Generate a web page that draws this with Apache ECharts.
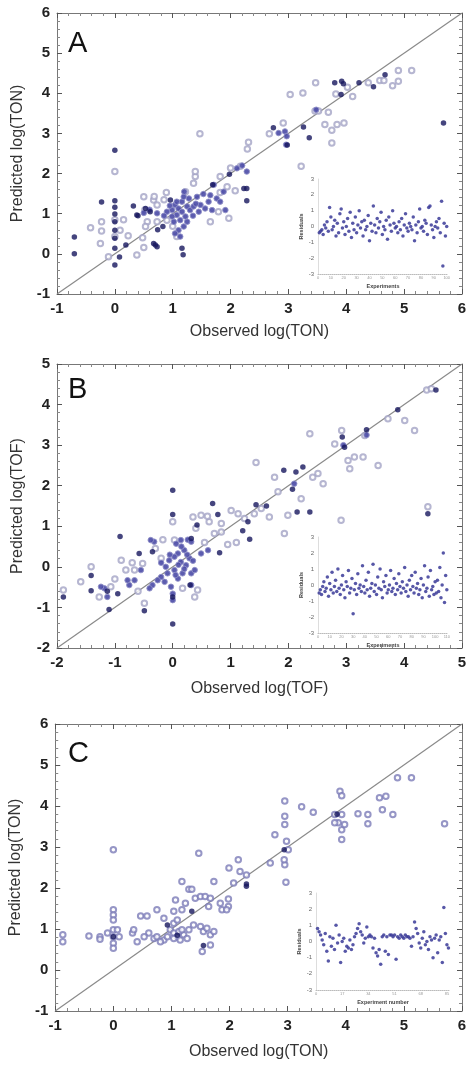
<!DOCTYPE html>
<html>
<head>
<meta charset="utf-8">
<title>Observed vs predicted</title>
<script src="https://cdn.jsdelivr.net/npm/echarts@6/dist/echarts.min.js"></script>
<style>
  html, body { margin: 0; padding: 0; background: #fff; }
  #chart { width: 474px; height: 1069px; }
</style>
</head>
<body>
<div id="chart"></div>
<script>
// panel A: observed vs predicted log(TON)
const aDark = [[-0.7,0.0],[-0.7,0.42],[-0.23,1.29],[0,2.58],[0,1.32],[0,1.16],[0,0.99],[0,0.8],[0,0.59],[0,0.39],[0,0.14],[0,-0.28],
  [0.08,-0.08],[0.19,0.22],[0.32,1.19],[0.4,0.95],[0.38,0.97],[0.53,1.13],[0.61,1.05],[0.74,0.6],[0.67,0.26],[0.73,0.18],[0.7,0.22],
  [0.83,0.68],[0.96,1.34],[1.16,0.14],[1.18,-0.02],[1.69,1.72],[1.98,1.98],[2.23,1.63],[2.28,1.63],[2.28,1.32],[2.74,3.14],
  [2.98,2.71],[3.26,3.16],[3.36,2.89],[3.8,4.26],[3.92,4.3],[3.95,4.24],[3.91,3.97],[4.22,4.26],[4.47,4.16],[4.67,4.46],[5.68,3.26]]
const aMid = [[0.99,1.09],[1.04,1.22],[1.1,1.13],[1.16,1.3],[1.07,0.97],[1.13,0.84],[1.22,0.93],[1.02,0.8],[1.19,0.68],[1.1,0.59],
  [1.04,0.51],[1.25,1.18],[1.3,1.09],[1.28,1.38],[1.19,1.42],[1.07,1.3],[0.99,0.93],[1.16,1.05],[1.25,0.8],[1.13,0.43],[1.42,1.42],
  [1.53,1.49],[1.62,1.3],[1.71,1.72],[1.48,1.22],[1.56,1.13],[1.65,1.46],[1.76,1.38],[1.82,1.3],[1.88,1.55],[1.68,1.09],[1.45,1.05],
  [1.36,1.18],[1.91,1.09],[0.5,1.02],[0.6,1.1],[0.73,1.01],[0.9,1.05],[0.85,0.95],[2.2,2.2],[2.11,2.13],[2.28,2.05],[2.83,3.01],
  [2.94,3.05],[2.97,2.93],[2.96,2.72],[3.48,3.59],[1.35,0.95],[1.4,1.25],[1.2,1.55],[0.95,1.2]]
const aRing = [[-0.42,0.65],[-0.23,0.8],[-0.23,0.57],[-0.25,0.26],[0,2.05],[0,0.85],[0,0.43],[0.09,0.59],[0.15,0.85],[0.23,0.45],
  [-0.11,-0.07],[0.38,-0.03],[0.48,0.4],[0.5,0.16],[0.52,1.1],[0.5,1.42],[0.67,1.34],[0.68,1.43],[0.85,1.35],[0.89,1.53],[0.73,1.22],
  [0.9,0.84],[0.73,0.8],[0.56,0.8],[0.53,0.68],[1.0,0.69],[1.07,0.43],[1.22,1.55],[1.36,1.76],[1.39,1.93],[1.39,2.05],[1.47,2.99],
  [1.65,0.8],[1.82,1.53],[1.94,1.67],[1.97,0.89],[1.79,1.05],[1.82,1.93],[2.0,2.14],[2.08,1.57],[2.17,2.18],[2.29,2.61],[2.31,2.78],
  [2.67,2.99],[2.91,3.26],[3.03,3.97],[3.25,4.01],[3.22,2.18],[3.47,4.26],[3.46,3.56],[3.52,3.56],[3.63,3.22],[3.69,3.53],[3.75,3.08],
  [3.75,2.76],[3.84,3.22],[3.96,3.26],[3.82,3.98],[4.11,3.92],[4.02,4.15],[4.38,4.26],[4.58,4.32],[4.65,4.32],[4.8,4.19],[4.9,4.3],
  [4.9,4.57],[5.13,4.57]]

// panel B: observed vs predicted log(TOF)
const bDark = [[-1.89,-0.74],[-1.41,-0.21],[-1.41,-0.59],[-0.91,0.75],[-1.1,-1.05],[-0.58,0.33],[-0.49,-1.08],[-0.35,0.37],[0,1.89],
  [0,1.29],[0,-1.41],[0,-0.74],[0.42,1.03],[0.69,1.56],[0.78,1.29],[0.81,0.35],[1.21,0.89],[1.3,1.11],[1.33,0.68],[1.44,1.53],
  [1.62,1.5],[1.92,2.38],[2.07,1.91],[2.13,2.34],[2.25,2.46],[2.15,1.35],[2.37,1.35],[2.93,3.2],[2.97,2.95],[3.35,3.38],[3.89,3.87],
  [4.41,1.31],[4.55,4.36],[-0.95,-0.66],[0.3,-0.45],[-1.13,-0.6],[0.32,0.7]]
const bMid = [[0.14,0.66],[0.26,0.67],[0.32,0.62],[0.2,0.41],[0.09,0.33],[0.03,0.25],[-0.06,0.16],[-0.12,0],[0.03,-0.08],[0.14,0.12],
  [0.23,0.04],[0.29,0.21],[-0.09,-0.16],[-0.2,-0.25],[-0.26,-0.33],[-0.35,-0.45],[-0.4,-0.53],[-0.14,-0.37],[-0.03,-0.49],[0,-0.66],
  [0,-0.82],[0.09,-0.29],[0.17,-0.16],[0.32,-0.16],[0.38,-0.08],[0.32,-0.45],[-0.32,0.62],[-0.38,0.66],[0.06,0.57],[0.49,0.33],
  [0.61,0.41],[-0.66,-0.33],[-0.75,-0.45],[-1.13,-0.74],[-1.18,-0.53],[-1.24,-0.49],[-0.78,-0.33],[-0.55,-0.08],[0.1,0.05],
  [0.2,-0.05],[-0.05,0.3],[0.25,0.3],[0.05,-0.2],[-0.2,0.1],[0.35,0.15],[0.15,0.5],[2.95,3.0],[3.35,3.25],[2.1,2.05]]
const bRing = [[-1.89,-0.57],[-1.59,-0.37],[-1.41,0],[-1.27,-0.74],[-1.07,-0.49],[-0.89,0.16],[-0.81,-0.08],[-0.66,-0.08],[-0.52,0.08],
  [-0.49,-0.9],[-0.2,0.21],[-0.17,0.67],[0,1.11],[0.03,0.66],[0.35,1.23],[0.49,1.27],[0.63,1.11],[0.84,1.07],[0.43,-0.57],[0.17,-0.53],
  [0.38,-0.74],[0.72,0.82],[0.84,0.86],[1.01,1.39],[1.13,1.31],[1.24,1.19],[1.41,1.31],[1.44,2.57],[1.53,1.44],[1.67,1.23],[1.76,2.21],
  [1.82,1.85],[1.93,0.82],[1.99,1.27],[2.22,1.68],[2.37,3.28],[2.42,2.21],[2.51,2.3],[2.6,2.05],[2.8,3.03],[2.92,3.36],[2.91,1.15],
  [3.03,2.62],[3.14,2.71],[3.29,2.71],[3.06,2.42],[3.32,3.24],[3.55,2.5],[3.72,3.65],[4.01,3.61],[4.18,3.36],[4.39,4.36],[4.47,4.39],
  [4.41,1.48],[-1.0,-0.3],[-0.7,0.1],[-0.3,0.45],[0.55,0.6],[0.95,0.55],[1.1,0.6],[-0.6,-0.6],[0.4,0.95],[0.6,1.25]]

// panel C: observed vs predicted log(TON), second model
const cDark = [[1.35,1.43],[0.93,1.1],[2.29,2.04],[2.29,2.1],[1.55,0.6],[0,0.81],[2.94,2.93],[1.1,0.85],[3.85,3.8]]
const cRing = [[-0.87,0.86],[-0.87,0.69],[-0.42,0.83],[-0.23,0.81],[-0.23,0.75],[0,2.93],[0,1.47],[0,1.34],[0,1.22],[0,0.98],
  [0,0.81],[0,0.65],[0,0.53],[-0.1,0.9],[0.1,0.81],[0.07,0.98],[0.33,0.9],[0.41,0.69],[0.47,1.32],[0.58,1.32],[0.61,0.9],[0.7,0.77],
  [0.75,1.47],[0.87,0.73],[0.93,0.81],[0.87,1.26],[1.04,1.14],[1.04,1.43],[1.1,1.22],[1.07,1.71],[1.18,2.16],[1.18,1.47],[1.3,1.97],
  [1.35,1.97],[1.24,1.63],[1.41,1.75],[1.47,2.85],[1.5,1.79],[1.58,1.79],[1.64,1.55],[1.67,1.75],[1.73,2.16],[1.84,1.63],[1.87,1.47],
  [1.98,1.73],[1.98,1.55],[1.95,1.47],[1.99,2.49],[2.15,2.69],[2.18,2.4],[2.29,2.32],[2.07,2.12],[0.98,0.98],[1.04,0.9],[1.1,0.81],
  [1.15,0.73],[1.04,0.77],[1.21,0.86],[1.27,0.77],[1.13,0.94],[1.18,0.98],[1.3,0.98],[1.5,1.06],[1.55,0.94],[1.61,1.02],[1.67,0.86],
  [1.73,0.94],[1.53,0.45],[1.67,0.61],[1.38,1.1],[0.75,0.81],[0.81,0.69],[0.53,0.81],[0.35,0.98],[2.7,2.61],[2.78,3.3],[2.95,3.75],
  [2.95,4.12],[2.95,3.55],[2.95,2.57],[2.94,2.69],[2.98,3.14],[3.01,2.93],[2.97,2.14],[3.24,3.98],[3.44,3.85],[3.87,3.59],[3.81,3.59],
  [3.9,4.36],[3.93,4.25],[3.93,3.79],[3.93,3.42],[3.93,3.18],[3.98,3.55],[4.21,3.81],[4.38,3.79],[4.38,3.57],[4.58,4.2],[4.69,4.24],
  [4.63,3.91],[4.81,3.79],[4.89,4.69],[5.13,4.69],[5.7,3.57],[3.81,3.79]]

// inset residuals, one value per experiment
const resA = [-0.4,-0.3,-0.2,-0.5,0.1,-0.1,0.3,-0.3,1.2,0.6,-0.2,0.0,0.4,-0.6,0.2,-0.4,0.8,1.1,-0.1,0.3,
  -0.5,0.0,0.5,-0.3,0.9,-0.7,0.2,-0.2,0.6,-0.4,0.1,1.0,-0.1,0.3,-0.6,0.4,-0.2,0.0,0.7,-0.9,
  0.2,-0.3,1.3,0.1,-0.4,0.5,-0.1,0.3,0.9,-0.5,0.0,-0.2,0.4,-0.8,0.6,0.1,-0.3,1.0,0.2,-0.1,
  0.0,-0.4,0.3,-0.2,0.5,-0.6,0.1,0.8,-0.1,-0.3,0.2,0.0,-0.2,0.6,-0.9,0.1,-0.4,0.3,1.1,-0.1,
  0.0,-0.3,0.4,0.2,-0.5,1.2,1.3,0.1,-0.2,-0.7,0.0,0.3,-0.1,0.5,-0.4,1.6,-2.5,0.2,-0.6,0.0]
const resB = [-0.5,-0.3,-0.6,-0.1,0.2,-0.4,-0.2,0.5,-0.7,0.1,-0.3,0.8,-0.5,-0.1,0.3,-0.4,1.0,-0.2,-0.6,0.0,
  0.6,-0.3,-0.8,0.2,-0.1,0.9,-0.5,-0.2,0.4,-1.8,-0.3,0.1,-0.6,0.7,-0.2,0.0,-0.4,1.2,-0.1,-0.5,
  0.3,-0.3,0.8,-0.7,-0.2,0.1,1.3,-0.4,0.0,-0.6,0.5,-0.2,1.0,-0.3,-0.8,0.2,-0.1,0.6,-0.5,-0.3,
  0.0,0.9,-0.4,-0.2,0.4,-0.6,0.1,-0.3,0.7,-0.1,-0.5,0.2,-0.2,1.1,-0.4,0.0,-0.7,0.3,-0.3,0.6,
  -0.1,-0.5,0.8,-0.2,0.1,-0.6,-0.3,0.4,-0.8,0.0,1.2,-0.4,-0.2,0.5,-0.7,0.9,-0.3,-0.1,-0.6,0.2,
  -0.5,0.3,-0.4,1.1,-0.8,0.0,2.0,-1.1,0.6,-0.3]
const resC = [0.8,0.6,0.4,0.1,-0.2,0.5,-0.6,-1.2,0.3,-0.3,0.2,-0.5,1.0,-0.1,0.4,-1.3,0.0,0.2,-0.6,-0.3,
  -0.4,0.1,-0.5,-0.2,0.3,0.5,0.8,1.1,0.6,0.4,-0.1,0.2,0.9,0.3,0.4,0.3,-0.4,0.2,-0.7,-0.9,
  -0.5,-1.4,0.3,0.4,-0.6,0.3,-0.8,0.4,0.4,0.3,0.4,-1.1,0.3,0.2,0.4,0.3,0.2,0.4,0.3,0.3,
  0.2,-0.3,0.3,1.2,0.8,0.5,-0.1,-0.4,0.2,0.6,-0.2,0.0,-0.5,0.3,0.1,-1.0,0.2,0.4,-0.7,0.1,
  0.3,-1.3,2.1,0.5,-0.2,-0.4]

const FONT = '"Liberation Sans", Arial, sans-serif'

const panels = [
  { box: { left: 57, top: 13, width: 405, height: 281 }, min: -1, max: 6, letter: 'A', letterTop: 29,
    xName: 'Observed log(TON)', yName: 'Predicted log(TON)', xGap: 30, yGap: 24, dark: aDark, mid: aMid, ring: aRing, ringColor: '#a4a4c6' },
  { box: { left: 57, top: 364, width: 405, height: 284 }, min: -2, max: 5, letter: 'B', letterTop: 375,
    xName: 'Observed log(TOF)', yName: 'Predicted log(TOF)', xGap: 33, yGap: 24, dark: bDark, mid: bMid, ring: bRing, ringColor: '#a4a4c6' },
  { box: { left: 53, top: 724, width: 409, height: 287 }, min: -1, max: 6, letter: 'C', letterTop: 739,
    xName: 'Observed log(TON)', yName: 'Predicted log(TON)', xGap: 33, yGap: 25, dark: cDark, mid: [], ring: cRing, ringColor: '#7c7cb8' }
]
const insets = [
  { box: { left: 318, top: 179, width: 130, height: 95 }, res: resA, xName: 'Experiments', step: 10 },
  { box: { left: 318, top: 537, width: 130, height: 96 }, res: resB, xName: 'Experiments', step: 10 },
  { box: { left: 316, top: 893, width: 134, height: 97 }, res: resC, xName: 'Experiment number', step: 17 }
]

const grid = [], xAxis = [], yAxis = [], series = [], graphic = []

// main panels
panels.forEach((p, k) => {
  grid.push(p.box)
  const common = {
    gridIndex: k, type: 'value', min: p.min, max: p.max, interval: 1,
    axisLine: { show: true, onZero: false, lineStyle: { color: '#777', width: 1 } },
    axisTick: { show: true, inside: true, length: 5, lineStyle: { color: '#555' } },
    minorTick: { show: true, splitNumber: 5, length: 3, lineStyle: { color: '#888' } },
    splitLine: { show: false }
  }
  const label = { fontFamily: FONT, fontSize: 15, fontWeight: 'bold', color: '#222' }
  const nameStyle = { fontFamily: FONT, fontSize: 16, color: '#333' }
  xAxis.push({ ...common, position: 'bottom', axisLabel: { ...label, margin: 7 },
    name: p.xName, nameLocation: 'middle', nameGap: p.xGap, nameTextStyle: nameStyle })
  xAxis.push({ ...common, position: 'top', axisLabel: { show: false } })
  yAxis.push({ ...common, position: 'left', axisLabel: { ...label, margin: 7 },
    name: p.yName, nameLocation: 'middle', nameGap: p.yGap, nameTextStyle: nameStyle })
  yAxis.push({ ...common, position: 'right', axisLabel: { show: false } })

  series.push({
    type: 'line', xAxisIndex: 2 * k, yAxisIndex: 2 * k, symbol: 'none', silent: true, z: 1,
    data: [[p.min, p.min], [p.max, p.max]], lineStyle: { color: '#8a8a8a', width: 1.2 }
  })
  series.push({
    type: 'scatter', xAxisIndex: 2 * k, yAxisIndex: 2 * k, symbol: 'emptyCircle', symbolSize: 5.5, z: 2,
    data: p.ring, itemStyle: { color: p.ringColor, borderWidth: 1 }
  })
  series.push({
    type: 'scatter', xAxisIndex: 2 * k, yAxisIndex: 2 * k, symbolSize: 5.5, z: 3,
    data: p.mid, itemStyle: { color: '#4a4aa6', borderColor: '#9090c8', borderWidth: 1, opacity: 0.9 }
  })
  series.push({
    type: 'scatter', xAxisIndex: 2 * k, yAxisIndex: 2 * k, symbolSize: 5.5, z: 4,
    data: p.dark, itemStyle: { color: '#16165e' }
  })
  graphic.push({
    type: 'text', left: 68, top: p.letterTop,
    style: { text: p.letter, font: '29px ' + FONT, fill: '#111' }
  })
})

// residual insets
insets.forEach((s, i) => {
  const g = 3 + i
  grid.push(s.box)
  xAxis.push({
    gridIndex: g, type: 'value', min: 0, max: s.res.length + 1, interval: s.step,
    axisLine: { show: true, onZero: false, lineStyle: { color: '#bbb', type: 'dotted' } },
    axisTick: { show: false }, splitLine: { show: false },
    axisLabel: { fontFamily: FONT, fontSize: 4, color: '#999', margin: 2 },
    name: s.xName, nameLocation: 'middle', nameGap: 9,
    nameTextStyle: { fontFamily: FONT, fontSize: 5.5, fontWeight: 'bold', color: '#444' }
  })
  yAxis.push({
    gridIndex: g, type: 'value', min: -3, max: 3, interval: 1,
    axisLine: { show: true, lineStyle: { color: '#ddd' } },
    axisTick: { show: false },
    splitLine: { show: false },
    axisLabel: { fontFamily: FONT, fontSize: 6, color: '#666', margin: 4 },
    name: 'Residuals', nameLocation: 'middle', nameGap: 11,
    nameTextStyle: { fontFamily: FONT, fontSize: 5.5, fontWeight: 'bold', color: '#444' }
  })
  series.push({
    type: 'scatter', xAxisIndex: 6 + i, yAxisIndex: 6 + i, symbolSize: 3.5,
    data: s.res.map((v, n) => [n + 1, v]),
    itemStyle: { color: '#3a3a98', opacity: 0.85 }
  })
})

const chart = echarts.init(document.getElementById('chart'))
chart.setOption({
  animation: false,
  backgroundColor: '#fff',
  grid, xAxis, yAxis, series, graphic
})
</script>
</body>
</html>
